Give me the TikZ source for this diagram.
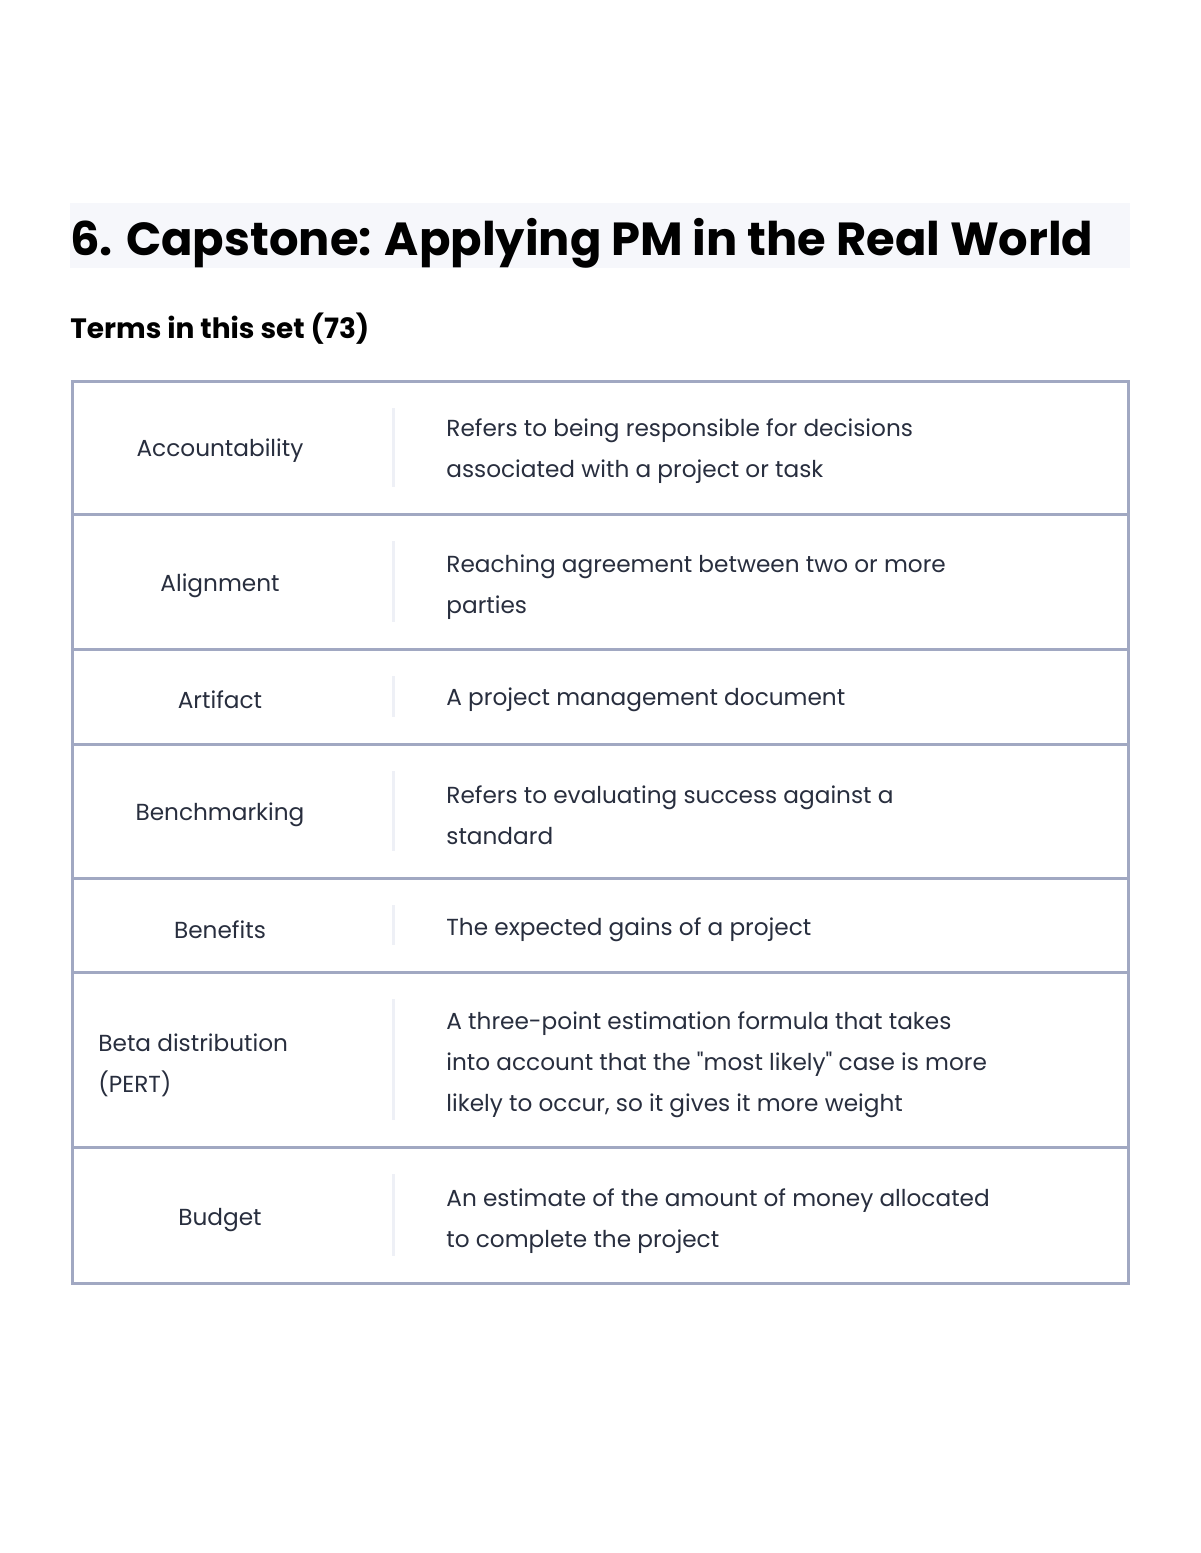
\documentclass[tikz,border=0pt]{standalone}
\usepackage{fontspec}
\setmainfont{Poppins}
\usetikzlibrary{positioning,calc}
\definecolor{rowline}{HTML}{A1A8C2}
\definecolor{sepline}{HTML}{EEF0F6}
\definecolor{titleband}{HTML}{F6F7FB}
\definecolor{inktext}{HTML}{282E3E}
\begin{document}
\begin{tikzpicture}[x=0.5pt,y=-0.5pt,
    rowbox/.style={draw=rowline, line width=1.5pt},
    termnode/.style={text=inktext, font=\fontsize{11.6}{20.5}\selectfont, inner sep=0pt},
    defnode/.style={text=inktext, font=\fontsize{11.6}{20.5}\selectfont, inner sep=0pt, anchor=west, align=left}
]
    \useasboundingbox[fill=white] (0,0) rectangle (1200,1553);

    % Title
    \fill[titleband] (70,203) rectangle (1130,268);
    \node[anchor=base west, inner sep=0pt, font=\fontsize{23.2}{28}\selectfont\bfseries] (title) at (70,255) {6. Capstone: Applying PM in the Real World};
    \node[anchor=base west, inner sep=0pt, font=\fontsize{14}{17}\selectfont\bfseries] (subtitle) at (70,338) {Terms in this set (73)};

    % Rows: top/bottom
    \foreach \top/\bot/\name in {381/514/r1, 514/649/r2, 649/744/r3, 744/878/r4, 878/972/r5, 972/1147/r6, 1147/1283/r7} {
        \draw[rowbox] (72,\top) rectangle (1128,\bot);
        \draw[sepline, line width=1.5pt] (393,\top+27) -- (393,\bot-27);
        \coordinate (\name) at (0,{(\top+\bot)/2});
    }

    % Terms
    \node[termnode] (t1) at (220,451) {Accountability};
    \node[termnode] (t2) at (220,586) {Alignment};
    \node[termnode] (t3) at (220,700) {Artifact};
    \node[termnode] (t4) at (220,815) {Benchmarking};
    \node[termnode] (t5) at (220,930) {Benefits};
    \node[termnode, anchor=west, align=left] (t6) at (98,1065) {Beta distribution\\(PERT)};
    \node[termnode] (t7) at (220,1220) {Budget};

    % Definitions
    \node[defnode] (d1) at (446,451) {Refers to being responsible for decisions\\associated with a project or task};
    \node[defnode] (d2) at (446,587) {Reaching agreement between two or more\\parties};
    \node[defnode] (d3) at (446,700) {A project management document};
    \node[defnode] (d4) at (446,815) {Refers to evaluating success against a\\standard};
    \node[defnode] (d5) at (446,930) {The expected gains of a project};
    \node[defnode] (d6) at (446,1065) {A three-point estimation formula that takes\\into account that the \textquotedbl most likely\textquotedbl{} case is more\\likely to occur, so it gives it more weight};
    \node[defnode] (d7) at (446,1221) {An estimate of the amount of money allocated\\to complete the project};
\end{tikzpicture}
\end{document}
